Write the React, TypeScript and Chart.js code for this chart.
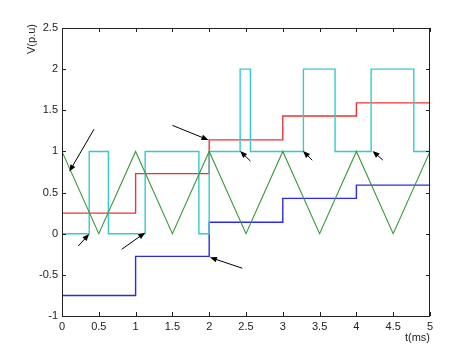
import React, { useEffect, useRef } from "react";
import { Chart, registerables } from "chart.js";

Chart.register(...registerables);

// Step series: value held over each 1 ms interval
const stepStarts = [0, 1, 2, 3, 4];
const stepEnd = 5;
const redValues = [0.25, 0.73, 1.14, 1.43, 1.59];
const blueValues = [-0.75, -0.275, 0.14, 0.43, 0.59];

// Triangular carrier
const carrierTimes = [0, 0.5, 1, 1.5, 2, 2.5, 3, 3.5, 4, 4.5, 5];
const carrierValues = [1, 0, 1, 0, 1, 0, 1, 0, 1, 0, 1];

// PWM output (switching instants and levels)
const pwmTimes = [0, 0.37, 0.63, 1.13, 1.86, 2.0, 2.42, 2.56, 3.28, 3.71, 4.2, 4.78, 5];
const pwmLevels = [0, 1, 0, 1, 0, 1, 2, 1, 2, 1, 2, 1];

// Annotation arrows [tailX, tailY, headX, headY] in data units
const arrows: number[][] = [
  [0.435, 1.27, 0.1, 0.755],
  [1.5, 1.317, 1.99, 1.139],
  [2.56, 0.883, 2.42, 1.005],
  [3.4, 0.894, 3.275, 1.005],
  [4.36, 0.894, 4.22, 1.005],
  [0.22, -0.15, 0.37, -0.004],
  [0.81, -0.19, 1.13, 0.012],
  [2.45, -0.42, 2.01, -0.287],
];

const xTicks = [0, 0.5, 1, 1.5, 2, 2.5, 3, 3.5, 4, 4.5, 5];
const yTicks = [-1, -0.5, 0, 0.5, 1, 1.5, 2, 2.5];

function stepPoints(starts: number[], values: number[], end: number) {
  const pts: { x: number; y: number }[] = [];
  for (let i = 0; i < values.length; i++) {
    const x1 = i + 1 < starts.length ? starts[i + 1] : end;
    pts.push({ x: starts[i], y: values[i] });
    pts.push({ x: x1, y: values[i] });
  }
  return pts;
}

const FONT = "'Liberation Sans', Arial, sans-serif";

const framePlugin = {
  id: "frame",
  afterDraw(chart: any) {
    const { ctx, chartArea: a, scales } = chart;
    const xs = scales.x;
    const ys = scales.y;
    ctx.save();
    ctx.strokeStyle = "#222";
    ctx.lineWidth = 1;
    ctx.beginPath();
    ctx.rect(a.left + 0.5, a.top + 0.5, a.right - a.left - 1, a.bottom - a.top);
    ctx.stroke();
    const tl = 4;
    ctx.beginPath();
    xTicks.forEach((t) => {
      const px = Math.round(xs.getPixelForValue(t)) + 0.5;
      ctx.moveTo(px, a.bottom);
      ctx.lineTo(px, a.bottom - tl);
      ctx.moveTo(px, a.top);
      ctx.lineTo(px, a.top + tl);
    });
    yTicks.forEach((t) => {
      const py = Math.round(ys.getPixelForValue(t)) + 0.5;
      ctx.moveTo(a.left, py);
      ctx.lineTo(a.left + tl, py);
      ctx.moveTo(a.right, py);
      ctx.lineTo(a.right - tl, py);
    });
    ctx.stroke();

    // arrows
    ctx.strokeStyle = "#000";
    ctx.fillStyle = "#000";
    arrows.forEach(([tx, ty, hx, hy]) => {
      const x0 = xs.getPixelForValue(tx);
      const y0 = ys.getPixelForValue(ty);
      const x1 = xs.getPixelForValue(hx);
      const y1 = ys.getPixelForValue(hy);
      const ang = Math.atan2(y1 - y0, x1 - x0);
      const L = 7;
      const W = 2.8;
      ctx.beginPath();
      ctx.moveTo(x0, y0);
      ctx.lineTo(x1 - Math.cos(ang) * L * 0.8, y1 - Math.sin(ang) * L * 0.8);
      ctx.stroke();
      const bx = x1 - Math.cos(ang) * L;
      const by = y1 - Math.sin(ang) * L;
      ctx.beginPath();
      ctx.moveTo(x1, y1);
      ctx.lineTo(bx + Math.sin(ang) * W, by - Math.cos(ang) * W);
      ctx.lineTo(bx - Math.sin(ang) * W, by + Math.cos(ang) * W);
      ctx.closePath();
      ctx.fill();
    });

    // axis titles
    ctx.fillStyle = "#222";
    ctx.font = `11px ${FONT}`;
    ctx.textAlign = "right";
    ctx.textBaseline = "middle";
    ctx.fillText("t(ms)", a.right, a.bottom + 22);
    ctx.translate(32, 39);
    ctx.rotate(-Math.PI / 2);
    ctx.textAlign = "center";
    ctx.fillText("V(p.u)", 0, 0);
    ctx.restore();
  },
};

export default function App() {
  const ref = useRef<HTMLCanvasElement>(null);
  useEffect(() => {
    document.body.style.margin = "0";
    const canvas = ref.current;
    if (!canvas) return;
    const pwmPts = stepPoints(pwmTimes.slice(0, -1), pwmLevels, pwmTimes[pwmTimes.length - 1]);
    const chart = new Chart(canvas, {
      type: "line",
      data: {
        datasets: [
          {
            label: "carrier",
            data: carrierTimes.map((t, i) => ({ x: t, y: carrierValues[i] })),
            borderColor: "#3a9a3a",
            borderWidth: 1.1,
            pointRadius: 0,
            tension: 0,
          },
          {
            label: "pwm",
            data: pwmPts,
            borderColor: "#33cccc",
            borderWidth: 1.4,
            pointRadius: 0,
            tension: 0,
          },
          {
            label: "ref1",
            data: stepPoints(stepStarts, redValues, stepEnd),
            borderColor: "#ee3333",
            borderWidth: 1.4,
            pointRadius: 0,
            tension: 0,
          },
          {
            label: "ref2",
            data: stepPoints(stepStarts, blueValues, stepEnd),
            borderColor: "#2b2be6",
            borderWidth: 1.4,
            pointRadius: 0,
            tension: 0,
          },
        ],
      },
      options: {
        animation: false,
        responsive: false,
        events: [],
        layout: { padding: { left: 0, top: 28, right: 44, bottom: 0 } },
        plugins: { legend: { display: false }, tooltip: { enabled: false } },
        scales: {
          x: {
            type: "linear",
            min: 0,
            max: 5,
            afterFit: (s: any) => {
              s.height = 39;
            },
            afterBuildTicks: (s: any) => {
              s.ticks = xTicks.map((v) => ({ value: v }));
            },
            grid: { display: false, drawTicks: false },
            border: { display: false },
            ticks: {
              padding: 4,
              color: "#222",
              font: { family: FONT, size: 11 },
              maxRotation: 0,
              autoSkip: false,
              callback: (v: any) => String(v),
            },
          },
          y: {
            type: "linear",
            min: -1,
            max: 2.5,
            afterFit: (s: any) => {
              s.width = 62;
            },
            afterBuildTicks: (s: any) => {
              s.ticks = yTicks.map((v) => ({ value: v }));
            },
            grid: { display: false, drawTicks: false },
            border: { display: false },
            ticks: {
              padding: 4,
              color: "#222",
              font: { family: FONT, size: 11 },
              autoSkip: false,
              callback: (v: any) => String(v),
            },
          },
        },
      },
      plugins: [framePlugin],
    });
    return () => chart.destroy();
  }, []);
  return (
    <div style={{ width: 474, height: 355, background: "#fff" }}>
      <canvas ref={ref} width={474} height={355} />
    </div>
  );
}
